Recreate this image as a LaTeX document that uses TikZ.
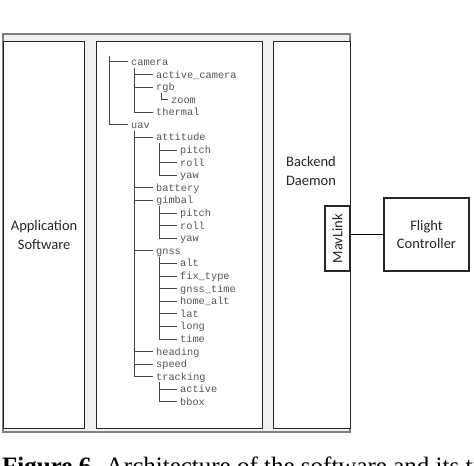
\documentclass[tikz,border=0pt]{standalone}
\usepackage{fontspec}
\setmainfont{Carlito}
\newfontfamily\treefont{Liberation Mono}
\newfontfamily\capfont{Liberation Serif}
\usetikzlibrary{calc}
\definecolor{outerline}{HTML}{808080}
\definecolor{outerfill}{HTML}{F0F0F0}
\definecolor{panelline}{HTML}{262626}
\definecolor{twigcol}{HTML}{4A4540}
\definecolor{leafcol}{HTML}{555555}
\newcommand\treelink[2]{\draw[branch] ([xshift=3.5bp,yshift=-2bp]#1.south west) |- ([xshift=-3bp]#2.west);}
\begin{document}
\begin{tikzpicture}[x=1bp,y=-1bp,
  outerbox/.style={draw=outerline, fill=outerfill, line width=1.3bp},
  panel/.style={draw=panelline, fill=white, line width=1.2bp, inner sep=0pt},
  lbl/.style={font=\fontsize{14.5bp}{18.5bp}\selectfont, align=center, text=black!85},
  leaf/.style={font=\treefont\fontsize{10.3bp}{12bp}\selectfont, text=leafcol, inner sep=0pt, anchor=west, text height=0.7em, text depth=0pt},
  branch/.style={draw=twigcol, line width=1bp},
  conn/.style={draw=black, line width=1.3bp}]
\useasboundingbox (0,0) rectangle (474,466);
\clip (0,0) rectangle (474,466);

% outer container
\draw[outerbox] (3,34) rectangle (350,432);

% panels
\node[panel, lbl, anchor=north west, minimum width=81bp, minimum height=387bp] (app) at (3,41) {Application\\Software};
\node[panel, anchor=north west, minimum width=166bp, minimum height=387bp] (tree) at (96,41) {};
\node[panel, anchor=north west, minimum width=77bp, minimum height=387bp] (backend) at (273,41) {};
\node[lbl] (backendlbl) at (311,171) {Backend\\Daemon};
\node[panel, lbl, rotate=90, minimum width=65bp, minimum height=25bp] (mav) at (337.5,238.5) {MavLink};
\node[panel, lbl, minimum width=85bp, minimum height=73bp] (fc) at (426.5,234.5) {Flight\\Controller};
\draw[conn] (fc.west) -- (fc.west -| mav.south);

% tree
\coordinate (root) at (109,56);
\node[leaf] (t1)  at (131,62.0)  {camera};
\node[leaf] (t2)  at (156,74.6)  {active\_camera};
\node[leaf] (t3)  at (156,87.2)  {rgb};
\node[leaf] (t4)  at (171,99.8)  {zoom};
\node[leaf] (t5)  at (156,112.4) {thermal};
\node[leaf] (t6)  at (131,124.9) {uav};
\node[leaf] (t7)  at (156,137.5) {attitude};
\node[leaf] (t8)  at (180,150.1) {pitch};
\node[leaf] (t9)  at (180,162.7) {roll};
\node[leaf] (t10) at (180,175.3) {yaw};
\node[leaf] (t11) at (156,187.9) {battery};
\node[leaf] (t12) at (156,200.5) {gimbal};
\node[leaf] (t13) at (180,213.1) {pitch};
\node[leaf] (t14) at (180,225.7) {roll};
\node[leaf] (t15) at (180,238.3) {yaw};
\node[leaf] (t16) at (156,250.9) {gnss};
\node[leaf] (t17) at (180,263.4) {alt};
\node[leaf] (t18) at (180,276.0) {fix\_type};
\node[leaf] (t19) at (180,288.6) {gnss\_time};
\node[leaf] (t20) at (180,301.2) {home\_alt};
\node[leaf] (t21) at (180,313.8) {lat};
\node[leaf] (t22) at (180,326.4) {long};
\node[leaf] (t23) at (180,339.0) {time};
\node[leaf] (t24) at (156,351.6) {heading};
\node[leaf] (t25) at (156,364.2) {speed};
\node[leaf] (t26) at (156,376.8) {tracking};
\node[leaf] (t27) at (180,389.3) {active};
\node[leaf] (t28) at (180,401.9) {bbox};

\draw[branch] (root) |- ([xshift=-3bp]t1.west);
\draw[branch] (root) |- ([xshift=-3bp]t6.west);
\treelink{t1}{t2}
\treelink{t1}{t3}
\treelink{t1}{t5}
\draw[branch] ([xshift=5bp,yshift=-2bp]t3.south west) |- ([xshift=-3bp]t4.west);
\treelink{t6}{t7}
\treelink{t6}{t11}
\treelink{t6}{t12}
\treelink{t6}{t16}
\treelink{t6}{t24}
\treelink{t6}{t25}
\treelink{t6}{t26}
\treelink{t7}{t8}
\treelink{t7}{t9}
\treelink{t7}{t10}
\treelink{t12}{t13}
\treelink{t12}{t14}
\treelink{t12}{t15}
\treelink{t16}{t17}
\treelink{t16}{t18}
\treelink{t16}{t19}
\treelink{t16}{t20}
\treelink{t16}{t21}
\treelink{t16}{t22}
\treelink{t16}{t23}
\treelink{t26}{t27}
\treelink{t26}{t28}

% caption (cut off by the frame, as in the reference)
\node[anchor=base west, inner sep=0pt, font=\capfont\fontsize{25bp}{30bp}\selectfont] (cap) at (2,474) {\textbf{Figure 6.} Architecture of the software and its ti};
\end{tikzpicture}
\end{document}
